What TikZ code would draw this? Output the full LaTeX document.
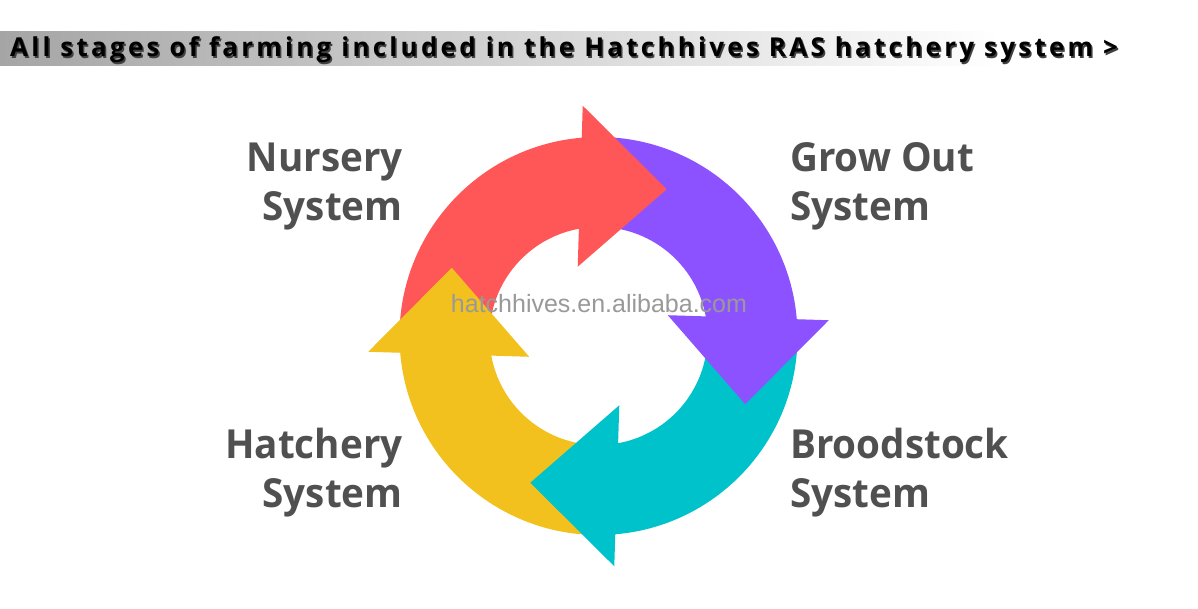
\documentclass[tikz,border=0pt]{standalone}
\usepackage{fontspec}
\newfontfamily\lblfont{Open Sans}[FakeStretch=0.965]
\newfontfamily\ttlfont{Open Sans}[LetterSpace=12.5]
\newfontfamily\wmfont{Liberation Sans}
\definecolor{cRed}{HTML}{FF5757}
\definecolor{cPurple}{HTML}{8C52FF}
\definecolor{cCyan}{HTML}{00C2CB}
\definecolor{cYellow}{HTML}{F2C11D}
\definecolor{lblgray}{HTML}{505050}
\definecolor{bannergray}{HTML}{A5A5A5}
\tikzset{
  lbl/.style={font=\lblfont\bfseries\fontsize{40}{40}\selectfont, text=lblgray, inner sep=0pt},
  ttl/.style={font=\ttlfont\bfseries\fontsize{26}{26}\selectfont, inner sep=0pt, anchor=base west},
}
% annular sector body: #1 colour, #2 start angle, #3 end angle
\newcommand{\ringbody}[3]{%
  \fill[#1] (#2:199) arc[start angle=#2, end angle=#3, radius=199pt]
    -- (#3:109) arc[start angle=#3, end angle=#2, radius=109pt] -- cycle;}
% arrow head rotated by #2
\newcommand{\ringhead}[2]{%
  \fill[#1, rotate=#2] (93.92:230.8) -- (65.07:161.8) -- (106.7:72.35) -- cycle;}
\begin{document}
\begin{tikzpicture}[x=1pt,y=1pt]
\useasboundingbox (0,0) rectangle (1198,608);
\fill[white] (0,0) rectangle (1198,608);
% banner
\shade[left color=bannergray, right color=white] (0,542.3) rectangle (1000,576.3);
\node[ttl, text=black!75] (titleshadow) at (11.5,549.8) {All stages of farming included in the Hatchhives RAS hatchery system >};
\node[ttl, text=black] (title) at (10,551.3) {All stages of farming included in the Hatchhives RAS hatchery system >};
% cycle
\begin{scope}[shift={(598.5,272)}]
  \coordinate (ctr) at (0,0);
  \ringbody{cRed}{182}{92}
  \ringbody{cPurple}{92}{2}
  \ringbody{cCyan}{2}{-88}
  \ringbody{cYellow}{-88}{-178}
  \ringhead{cRed}{0}
  \ringhead{cPurple}{-90}
  \ringhead{cCyan}{-180}
  \ringhead{cYellow}{-270}
\end{scope}
% watermark
\node[font=\wmfont\fontsize{25}{25}\selectfont, text=black!40, anchor=base, inner sep=0pt] (wm) at (599,295.3) {hatchhives.en.alibaba.com};
% labels
\node[lbl, anchor=base east] (nurs1) at (402.7,436.3) {Nursery};
\node[lbl, anchor=base east] (nurs2) at (402.7,387.3) {System};
\node[lbl, anchor=base west] (grow1) at (790,436.3) {Grow Out};
\node[lbl, anchor=base west] (grow2) at (790,387.3) {System};
\node[lbl, anchor=base east] (hatc1) at (402.7,149.7) {Hatchery};
\node[lbl, anchor=base east] (hatc2) at (402.7,100.7) {System};
\node[lbl, anchor=base west] (brood1) at (790,149.7) {Broodstock};
\node[lbl, anchor=base west] (brood2) at (790,100.7) {System};
\end{tikzpicture}
\end{document}
